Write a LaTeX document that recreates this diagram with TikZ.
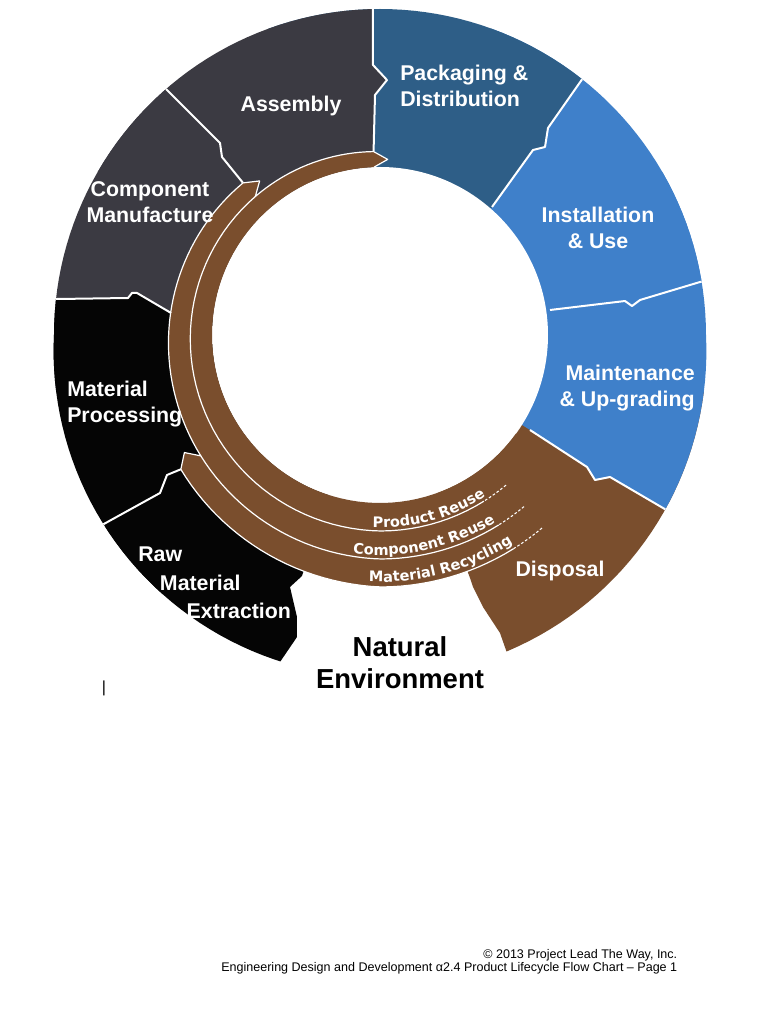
\documentclass[tikz,border=0pt]{standalone}
\usepackage{fontspec}
\setmainfont{Liberation Sans}
\newfontfamily\bandfont{DejaVu Sans}
\usetikzlibrary{decorations.text}
\definecolor{asmgray}{HTML}{3B3A42}
\definecolor{rawblack}{HTML}{050505}
\definecolor{packblue}{HTML}{2E5E87}
\definecolor{useblue}{HTML}{3F80CA}
\definecolor{loopbrown}{HTML}{7A4E2D}
\pgfmathdeclarefunction{rout}{1}{\pgfmathparse{326+16*max(0,-sin(#1))}}
\pgfmathdeclarefunction{bw}{1}{\pgfmathparse{min(28,34.3-0.07*#1)}}
\tikzset{
  stage/.style={text=white,font=\bfseries\fontsize{16}{19.5}\selectfont,align=center,inner sep=0pt},
  seam/.style={white,line width=1.5pt,line join=round},
  loopline/.style={white,line width=0.9pt,line join=round},
  looptail/.style={white,line width=0.8pt,dash pattern=on 2pt off 1.5pt},
  looplabel/.style={decorate,decoration={text along path,text align=center,text color=white,
    text={|\bandfont\bfseries\fontsize{10.9}{13}\selectfont|#1}}},
  foot/.style={font=\fontsize{9.4}{10}\selectfont,inner sep=0pt,anchor=base east}
}

\begin{document}
\begin{tikzpicture}[x=0.75pt,y=0.75pt]
\fill[white] (-380,-689) rectangle (388,335);
\useasboundingbox (-380,-689) rectangle (388,335);
\begin{scope}
\clip plot[domain=0:360,samples=181] (\x:{rout(\x)}) -- cycle;
\fill[loopbrown] (0,0) -- (90,-243) -- (93,-252) -- (103,-272) -- (120,-298) -- (127,-318) -- (-68:420) -- (-40:420) -- (-10:420) -- cycle;
\fill[useblue] (0,0) -- (150,-95) -- (207,-132) -- (215,-145) -- (230,-142) -- (283,-173) -- (-31.4:420) -- (0:420) -- (30:420) -- cycle;
\fill[useblue] (0,0) -- (170,25) -- (245,34) -- (252,29) -- (260,35) -- (320,53) -- (9.4:420) -- (40:420) -- (70:420) -- cycle;
\fill[packblue] (0,0) -- (112,128) -- (153,185) -- (165,188) -- (168,207) -- (203,257) -- (51.7:420) -- (80:420) -- (110:420) -- cycle;
\fill[asmgray] (0,0) -- (92:184) -- (-5,240) -- (7,255) -- (-7,270) -- (-7,420) -- (120:420) -- (150:420) -- cycle;
\fill[asmgray] (0,0) -- (132:205) -- (-158,178) -- (-160,192) -- (-215,247) -- (131:420) -- (160:420) -- (190:420) -- cycle;
\fill[rawblack] (0,0) -- (174:210) -- (-243,42) -- (-248,42) -- (-252,37) -- (-322,36) -- (173.6:420) -- (200:420) -- (230:420) -- cycle;
\fill[rawblack] (0,0) -- (-146:240) -- (-213,-140) -- (-220,-158) -- (-146:420) -- (-125:420) -- (-107.5:420) -- (-100,-327) -- (-83,-302) -- (-83,-282) -- (-90,-252) -- (-78,-241) -- cycle;
\fill[white] (0,0) circle[radius=126pt];
\fill[loopbrown] plot[domain=36:146,samples=50] ({-\x}:{168+3*bw(\x)}) -- ({-149}:{168+2.5*bw(146)})
  -- plot[domain=146:228,samples=40] ({-\x}:{168+2*bw(\x)}) -- ({-232}:{168+1.5*bw(228)})
  -- plot[domain=228:268,samples=20] ({-\x}:{168+bw(\x)}) -- ({-272.5}:{168+0.5*bw(268)})
  -- plot[domain=268:36,samples=80] ({-\x}:168) -- cycle;
\draw[loopline] plot[domain=58:146,samples=40] ({-\x}:{168+3*bw(\x)}) -- ({-149}:{168+2.5*bw(146)})
  -- plot[domain=146:228,samples=40] ({-\x}:{168+2*bw(\x)}) -- ({-232}:{168+1.5*bw(228)})
  -- plot[domain=228:268,samples=20] ({-\x}:{168+bw(\x)}) -- ({-272.5}:{168+0.5*bw(268)}) -- (-268:168);
\draw[loopline] plot[domain=58:228,samples=60] ({-\x}:{168+bw(\x)});
\draw[loopline] plot[domain=58:146,samples=40] ({-\x}:{168+2*bw(\x)});
\draw[looptail] plot[domain=50:58,samples=5] ({-\x}:{168+bw(\x)});
\draw[looptail] plot[domain=50:58,samples=5] ({-\x}:{168+2*bw(\x)});
\draw[looptail] plot[domain=50:58,samples=5] ({-\x}:{168+3*bw(\x)});
\draw[seam] (150,-95) -- (207,-132) -- (215,-145) -- (230,-142) -- (283,-173) -- (-31.4:360);
\draw[seam] (170,25) -- (245,34) -- (252,29) -- (260,35) -- (320,53) -- (9.4:360);
\draw[seam] (112,128) -- (153,185) -- (165,188) -- (168,207) -- (203,257) -- (51.7:360);
\draw[seam] (92:184) -- (-5,240) -- (7,255) -- (-7,270) -- (-7,360);
\draw[seam] (132:205) -- (-158,178) -- (-160,192) -- (-215,247) -- (131:360);
\draw[seam] (174:210) -- (-243,42) -- (-248,42) -- (-252,37) -- (-322,36) -- (173.6:360);
\draw[seam] (-146:240) -- (-213,-140) -- (-220,-158) -- (-146:360);
\end{scope}
\path[looplabel={Product Reuse}] (-104.5:193) arc[start angle=-104.5,end angle=-44.5,radius=144.75pt];
\path[looplabel={Component Reuse}] (-107.7:220) arc[start angle=-107.7,end angle=-47.7,radius=165pt];
\path[looplabel={Material Recycling}] (-105:247) arc[start angle=-105,end angle=-45,radius=185.25pt];
\node[stage] (asm) at (-89,229) {Assembly};
\node[stage,align=left,anchor=west] (pack) at (20,249.5) {Packaging \&\\Distribution};
\node[stage] (comp) at (-230,132.5) {Component\\Manufacture};
\node[stage] (inst) at (218,106.7) {Installation\\\& Use};
\node[stage,align=right,anchor=east] (maint) at (315,-53) {Maintenance\\\& Up-grading};
\node[stage,align=left,anchor=west] (proc) at (-313,-69) {Material\\Processing};
\node[stage,align=left,anchor=west,font=\bfseries\fontsize{16}{21.4}\selectfont] (raw) at (-242,-248) {Raw\\\hspace*{16.3pt}Material\\\hspace*{36.3pt}Extraction};
\node[stage] (disp) at (180,-236) {Disposal};
\node[font=\bfseries\fontsize{20.6}{23.8}\selectfont,align=center,inner sep=0pt] (nature) at (20,-328) {Natural\\Environment};
\node[font=\fontsize{12}{12}\selectfont,inner sep=0pt] (mark) at (-276,-353) {|};
\node[foot] (footA) at (297.5,-623.3) {© 2013 Project Lead The Way, Inc.};
\node[foot] (footB) at (297.5,-636.7) {Engineering Design and Development α2.4 Product Lifecycle Flow Chart – Page 1};
\end{tikzpicture}
\end{document}
